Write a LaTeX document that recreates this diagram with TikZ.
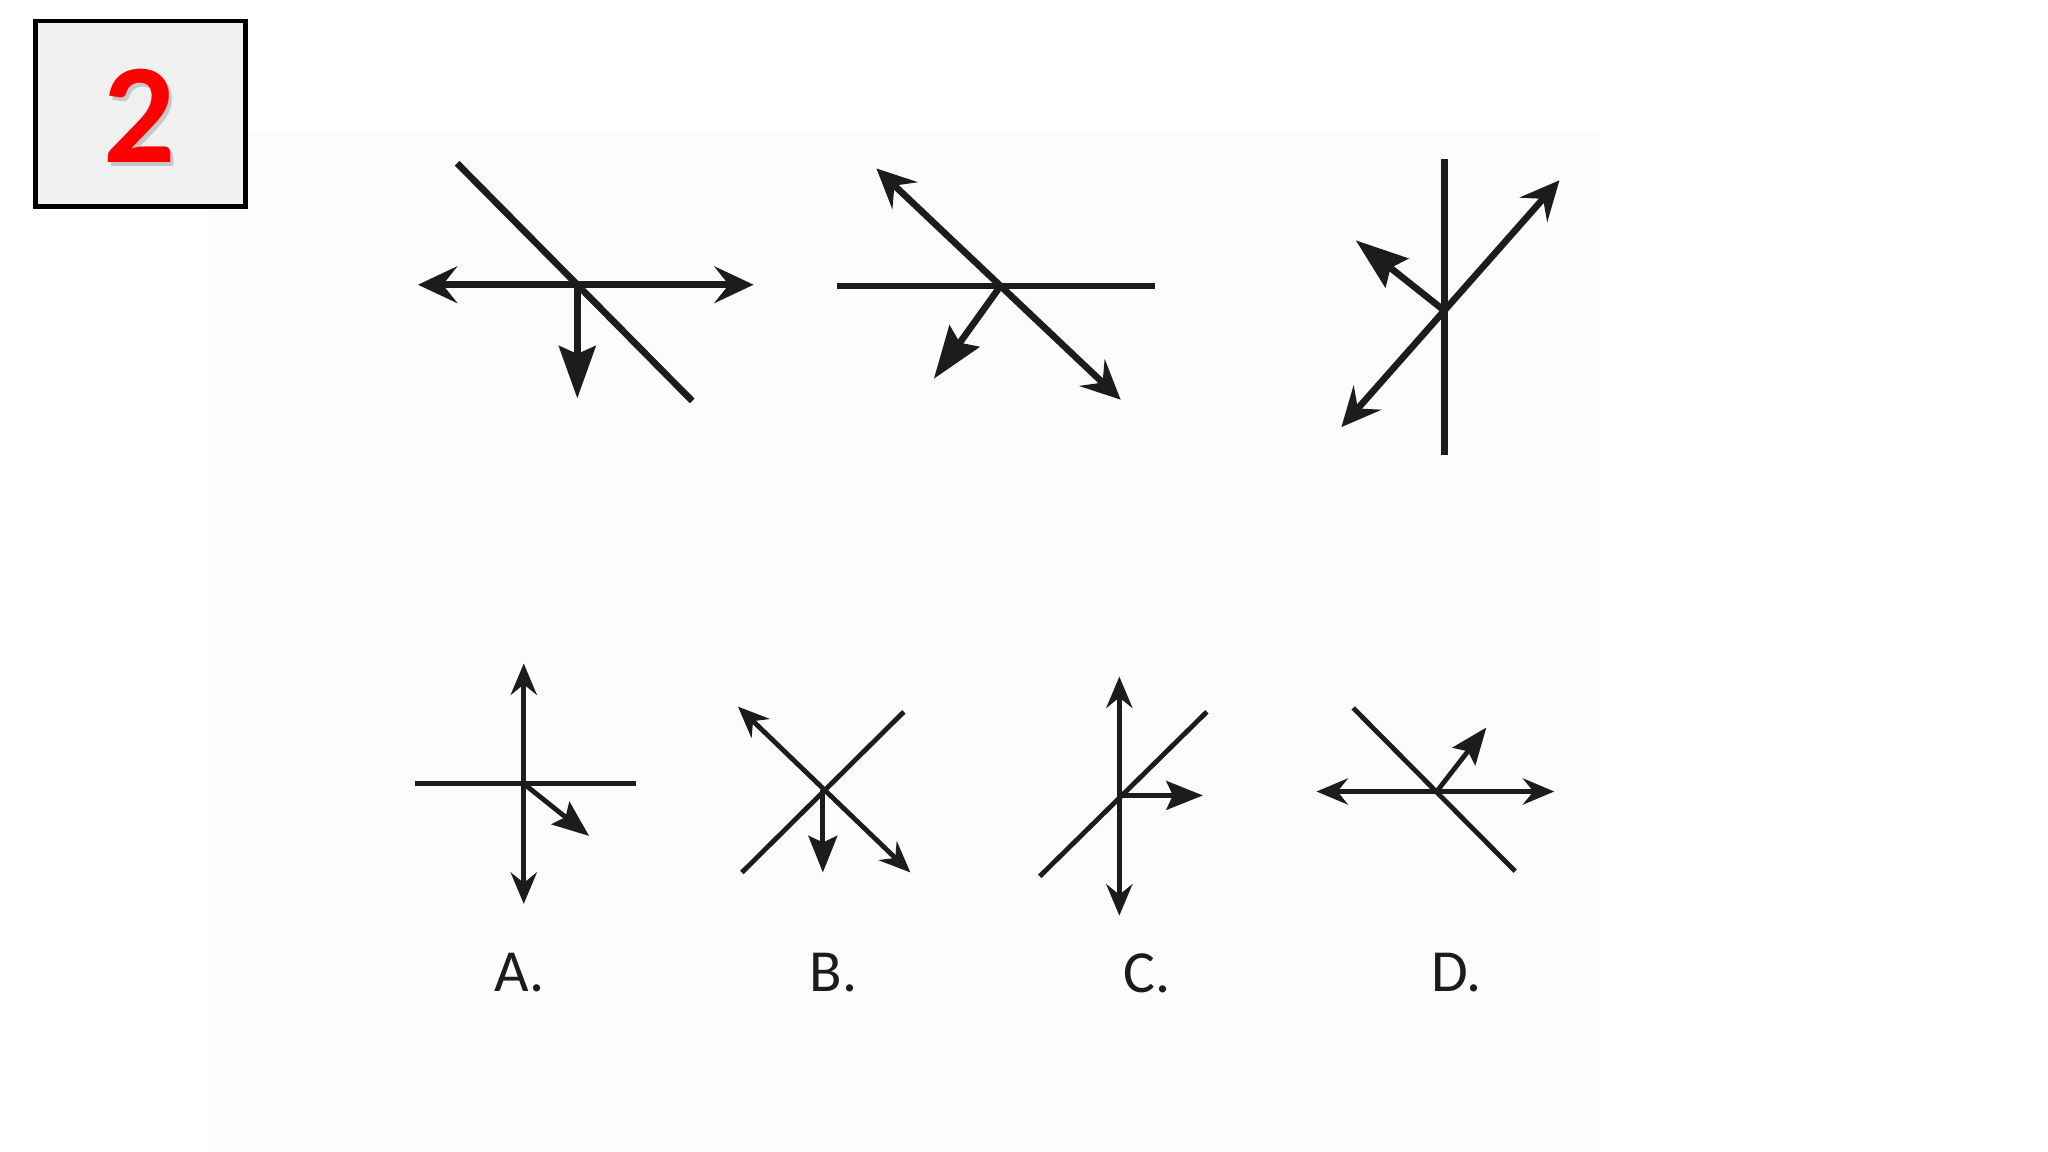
\documentclass[tikz,border=0pt]{standalone}
\usepackage{fontspec}
\setmainfont{Carlito}
\usetikzlibrary{arrows.meta}
\definecolor{boxgray}{RGB}{240,240,240}
\definecolor{scanbg}{RGB}{253,252,252}
\definecolor{ink}{RGB}{28,28,28}

\begin{document}
\begin{tikzpicture}[x=0.01cm,y=-0.01cm,
	bigline/.style={draw=ink,line width=1.45pt},
	smallline/.style={draw=ink,line width=1.05pt},
	bigboth/.style={bigline,{Stealth[length=3mm,width=2.8mm,inset=1.1mm]}-{Stealth[length=3mm,width=2.8mm,inset=1.1mm]}},
	bigone/.style={bigline,-{Stealth[length=4mm,width=2.8mm,inset=0.6mm]}},
	smallboth/.style={smallline,{Stealth[length=2.4mm,width=2mm,inset=0.8mm]}-{Stealth[length=2.4mm,width=2mm,inset=0.8mm]}},
	smallone/.style={smallline,-{Stealth[length=2.8mm,width=2.2mm,inset=0.5mm]}},
	optlabel/.style={font=\fontsize{13}{13}\selectfont,text=ink}]
	\useasboundingbox (0,0) rectangle (1568,882);
	\fill[white] (0,0) rectangle (1568,882);
	\fill[scanbg] (160,100) rectangle (1225,882);
	% number box
	\node[draw=black,line width=1pt,fill=boxgray,minimum width=1.61cm,minimum height=1.42cm] (numbox) at (107.5,87) {};
	\node[text=black!22,font=\fontsize{31}{31}\selectfont\bfseries] (numshadow) at (109,91.5) {2};
	\node[text=red,font=\fontsize{31}{31}\selectfont\bfseries] (num) at (107,89) {2};
	% first row
	\coordinate (p1) at (442,218);
	\draw[bigline] (350,125) -- (530,307);
	\draw[bigboth] (320,218) -- (577,218);
	\draw[bigone] (p1) -- (442,305);
	\coordinate (p2) at (766,219);
	\draw[bigline] (641,219) -- (884,219);
	\draw[bigboth] (671,129) -- (858,306);
	\draw[bigone] (p2) -- (715,290);
	\coordinate (p3) at (1106,238);
	\draw[bigline] (1106,122) -- (1106,348);
	\draw[bigboth] (1027,327) -- (1194,138);
	\draw[bigone] (p3) -- (1038,184);
	% answers
	\coordinate (qa) at (401,600);
	\draw[smallline] (318,600) -- (487,600);
	\draw[smallboth] (401,508) -- (401,692);
	\draw[smallone] (qa) -- (451,640);
	\node[optlabel] (labA) at (398,745) {A.};
	\coordinate (qb) at (630,605);
	\draw[smallline] (568,668) -- (692,545);
	\draw[smallboth] (565,541) -- (697,668);
	\draw[smallone] (qb) -- (630,668);
	\node[optlabel] (labB) at (638,745) {B.};
	\coordinate (qc) at (857,609);
	\draw[smallline] (796,671) -- (924,545);
	\draw[smallboth] (857,518) -- (857,701);
	\draw[smallone] (qc) -- (921,609);
	\node[optlabel] (labC) at (878,745) {C.};
	\coordinate (qd) at (1100,606);
	\draw[smallline] (1036,542) -- (1160,667);
	\draw[smallboth] (1008,606) -- (1190,606);
	\draw[smallone] (qd) -- (1138,557);
	\node[optlabel] (labD) at (1115,745) {D.};
\end{tikzpicture}
\end{document}
